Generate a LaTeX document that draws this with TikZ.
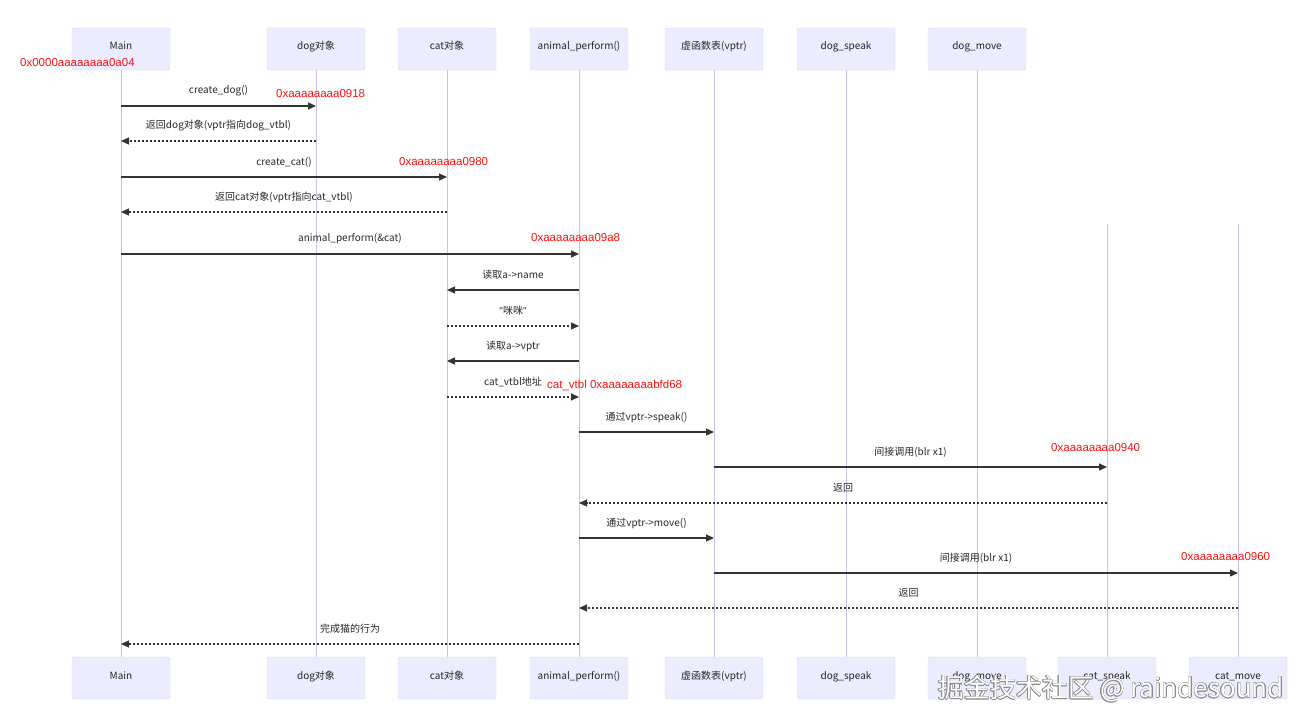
\documentclass[tikz,border=0pt]{standalone}
\usepackage{fontspec}
\setmainfont{Noto Sans CJK SC}
\newfontfamily\addrfont{Liberation Sans}
\usepackage[copies]{contour}
\usetikzlibrary{arrows.meta}
\definecolor{actfill}{HTML}{ECECFF}
\definecolor{actbord}{HTML}{DCD4F4}
\definecolor{lifeln}{HTML}{C9C1EC}
\definecolor{arrc}{HTML}{333333}
\definecolor{addrc}{HTML}{FF1010}
\tikzset{
  actor/.style={draw=actbord, fill=actfill, rounded corners=2pt, minimum width=98pt, minimum height=42pt, inner sep=0pt, text height=8pt, text depth=6pt, font=\fontsize{10}{12}\selectfont, text=black!85},
  life/.style={draw=lifeln, line width=0.9pt},
  msg/.style={draw=arrc, line width=1.2pt, -{Triangle[length=8pt,width=7pt]}},
  ret/.style={draw=arrc, line width=1.1pt, dash pattern=on 2pt off 2pt, -{Triangle[length=8pt,width=7pt]}},
  mlabel/.style={font=\fontsize{10}{12}\selectfont, text=black!85, inner sep=0pt},
  addr/.style={font=\addrfont\fontsize{11.5}{13}\selectfont, text=addrc, inner sep=0pt, anchor=west}
}
\newcommand{\seqmsg}[5]{% style, from, to, y, label
  \draw[#1] (#2top |- 0,#4) -- (#3top |- 0,#4)
    node[mlabel, midway, yshift=15pt] {#5};
}
\begin{document}
\begin{tikzpicture}[x=1pt,y=-1pt]
\useasboundingbox (0,0) rectangle (1305,725);
\foreach \n/\x/\t in {Main/121/Main, dog/316/dog对象, cat/447/cat对象, anim/579/animal\_perform(), vt/714/虚函数表(vptr), ds/846/dog\_speak, dm/977/dog\_move}{
  \node[actor] (\n top) at (\x,49) {\t};
  \node[actor] (\n bot) at (\x,678) {\t};
  \draw[life] (\n top.south) -- (\n bot.north);
}
\foreach \n/\x/\t in {cs/1107/cat\_speak, cm/1238/cat\_move}{
  \coordinate (\n top) at (\x,224);
  \node[actor] (\n bot) at (\x,678) {\t};
  \draw[life] (\n top) -- (\n bot.north);
}
\seqmsg{msg}{Main}{dog}{106}{create\_dog()}
\seqmsg{ret}{dog}{Main}{141}{返回dog对象(vptr指向dog\_vtbl)}
\seqmsg{msg}{Main}{cat}{177}{create\_cat()}
\seqmsg{ret}{cat}{Main}{212}{返回cat对象(vptr指向cat\_vtbl)}
\seqmsg{msg}{Main}{anim}{254}{animal\_perform(\&cat)}
\seqmsg{msg}{anim}{cat}{290}{读取a->name}
\seqmsg{ret}{cat}{anim}{326}{{\addrfont"}咪咪{\addrfont"}}
\seqmsg{msg}{anim}{cat}{361}{读取a->vptr}
\seqmsg{ret}{cat}{anim}{397}{cat\_vtbl地址}
\seqmsg{msg}{anim}{vt}{432}{通过vptr->speak()}
\seqmsg{msg}{vt}{cs}{467}{间接调用(blr x1)}
\seqmsg{ret}{cs}{anim}{503}{返回}
\seqmsg{msg}{anim}{vt}{538}{通过vptr->move()}
\seqmsg{msg}{vt}{cm}{573}{间接调用(blr x1)}
\seqmsg{ret}{cm}{anim}{608}{返回}
\seqmsg{ret}{anim}{Main}{644}{完成猫的行为}
\node[addr] (a0) at (20,63) {0x0000aaaaaaaa0a04};
\node[addr] (a1) at (276,94) {0xaaaaaaaa0918};
\node[addr] (a2) at (399,162) {0xaaaaaaaa0980};
\node[addr] (a3) at (531,238) {0xaaaaaaaa09a8};
\node[addr] (a4) at (547,385) {cat\_vtbl 0xaaaaaaaabfd68};
\node[addr] (a5) at (1051,448) {0xaaaaaaaa0940};
\node[addr] (a6) at (1181,557) {0xaaaaaaaa0960};
\contourlength{0.5pt}
\node[anchor=east, inner sep=0pt, font=\fontsize{26}{28}\selectfont] (wm) at (1284,689) {\contour{black!45}{\textcolor{white}{掘金技术社区 @ raindesound}}};
\end{tikzpicture}
\end{document}
